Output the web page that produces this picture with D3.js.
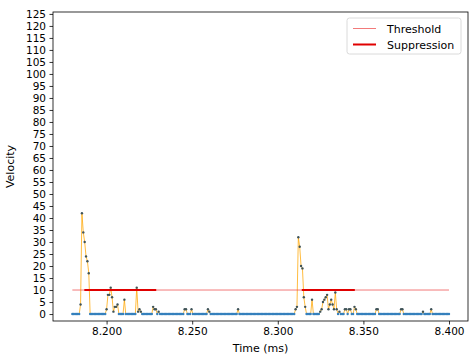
<!doctype html>
<html>
<head>
<meta charset="utf-8" />
<script src="https://cdn.jsdelivr.net/npm/d3@7/dist/d3.min.js"></script>
<style>
  body{margin:0;padding:0;background:#fff;}
  text{font-family:"DejaVu Sans",sans-serif;}
</style>
</head>
<body>
<script>
  // sampling grid (ms)
  var tStart = 8.180;
  var tStep = 0.0008;
  // velocity read per sample, 20 per row
  var velocity = [
    0,0,0,0,0,0,4,42,34,30,24,22,17,0,0,0,0,0,0,0,
    0,0,0,0,0,2,8,8,11,7,1,3,3,4,0,0,0,0,6,0,
    0,0,0,0,0,0,0,11,1,2,1,0,0,0,0,0,0,0,0,3,
    2,2,0,1,0,0,0,0,0,0,0,0,0,0,0,0,0,0,0,0,
    0,0,2,2,0,0,0,2,0,0,0,0,0,0,0,0,0,0,0,2,
    1,0,0,0,0,0,0,0,0,0,0,0,0,0,0,0,0,0,0,0,
    0,2,0,0,0,0,0,0,0,0,0,0,0,0,0,0,0,0,0,0,
    0,0,0,0,0,0,0,0,0,0,0,0,0,0,0,0,0,0,0,0,
    0,0,0,2,3,32,28,20,19,7,3,0,0,0,0,6,0,0,0,0,
    0,1,2,5,6,7,8,2,4,6,4,2,9,2,0,1,0,0,0,2,
    2,0,2,2,0,0,3,2,0,0,0,0,0,0,0,0,0,0,0,0,
    0,0,2,2,0,0,0,0,0,0,0,0,0,0,0,0,0,0,0,0,
    2,2,0,0,0,0,0,0,0,0,0,0,0,0,0,0,1,0,0,0,
    0,0,2,0,0,0,0,0,0,0,0,0,0,0,0,0
  ];
  var threshold = 10;
  var thresholdRange = [8.180, 8.400];
  var suppressStart = [8.187, 8.314];
  var suppressEnd = [8.229, 8.345];
  var xTicks = [8.200, 8.250, 8.300, 8.350, 8.400];
  var yTicks = d3.range(0, 126, 5);

  var W = 474, H = 363;
  var margin = {top: 12, right: 6, bottom: 42, left: 53};
  var width = W - margin.left - margin.right;
  var height = H - margin.top - margin.bottom;

  var data = velocity.map(function(v, i){ return {t: tStart + i*tStep, v: v}; });

  var svg = d3.select("body").append("svg").attr("width", W).attr("height", H)
    .append("g").attr("transform", "translate(" + margin.left + "," + margin.top + ")");

  var x = d3.scaleLinear().domain([8.1687, 8.4111]).range([0, width]);
  var y = d3.scaleLinear().domain([-2.9, 125.8]).range([height, 0]);

  // axes
  var xAxis = d3.axisBottom(x).tickValues(xTicks).tickFormat(d3.format(".3f")).tickSize(3.5).tickPadding(3.5);
  var yAxis = d3.axisLeft(y).tickValues(yTicks).tickSize(3.5).tickPadding(3.5);
  var gx = svg.append("g").attr("transform", "translate(0," + height + ")").call(xAxis);
  var gy = svg.append("g").call(yAxis);
  [gx, gy].forEach(function(g){
    g.select(".domain").remove();
    g.selectAll(".tick line").attr("stroke", "#000").attr("stroke-width", 0.8);
    g.selectAll(".tick text").attr("font-size", "10.5px").attr("fill", "#000")
      .style("font-family", "'DejaVu Sans', sans-serif");
  });

  // data line + dots
  var line = d3.line().x(function(d){ return x(d.t); }).y(function(d){ return y(d.v); });
  svg.append("path").datum(data).attr("d", line)
    .attr("fill", "none").attr("stroke", "#ffa500").attr("stroke-opacity", 0.75).attr("stroke-width", 1);

  svg.selectAll(".pt").data(data).enter().append("circle")
    .attr("class", "pt")
    .attr("cx", function(d){ return x(d.t); })
    .attr("cy", function(d){ return y(d.v); })
    .attr("r", 1.2)
    .attr("fill", function(d){ return d.v == 0 ? "#3580bd" : "#3f5358"; });

  // threshold
  svg.append("line")
    .attr("x1", x(thresholdRange[0])).attr("x2", x(thresholdRange[1]))
    .attr("y1", y(threshold)).attr("y2", y(threshold))
    .attr("stroke", "#ec3a3a").attr("stroke-opacity", 0.85).attr("stroke-width", 0.8);

  // suppression
  suppressStart.forEach(function(s, i){
    svg.append("line")
      .attr("x1", x(s)).attr("x2", x(suppressEnd[i]))
      .attr("y1", y(threshold)).attr("y2", y(threshold))
      .attr("stroke", "#e00000").attr("stroke-width", 2);
  });

  // frame
  svg.append("rect").attr("width", width).attr("height", height)
    .attr("fill", "none").attr("stroke", "#000").attr("stroke-width", 0.8);

  // axis labels
  svg.append("text").attr("x", width/2).attr("y", height + 31).attr("text-anchor", "middle")
    .attr("font-size", "11px").text("Time (ms)");
  svg.append("text").attr("transform", "translate(" + (-39) + "," + (height/2) + ") rotate(-90)")
    .attr("text-anchor", "middle").attr("font-size", "11px").text("Velocity");

  // legend
  var lg = svg.append("g").attr("transform", "translate(" + (347 - margin.left) + "," + (18 - margin.top) + ")");
  lg.append("rect").attr("width", 114).attr("height", 36).attr("rx", 2.5)
    .attr("fill", "#fff").attr("fill-opacity", 0.8).attr("stroke", "#d0d0d0").attr("stroke-width", 0.8);
  var items = [
    {label: "Threshold", w: 0.8, c: "#ec3a3a", o: 0.85},
    {label: "Suppression", w: 2, c: "#e00000", o: 1}
  ];
  items.forEach(function(it, i){
    var yy = 10.5 + i*16;
    lg.append("line").attr("x1", 6).attr("x2", 29).attr("y1", yy).attr("y2", yy)
      .attr("stroke", it.c).attr("stroke-width", it.w).attr("stroke-opacity", it.o);
    lg.append("text").attr("x", 40).attr("y", yy + 4).attr("font-size", "11px").text(it.label);
  });
</script>
</body>
</html>
